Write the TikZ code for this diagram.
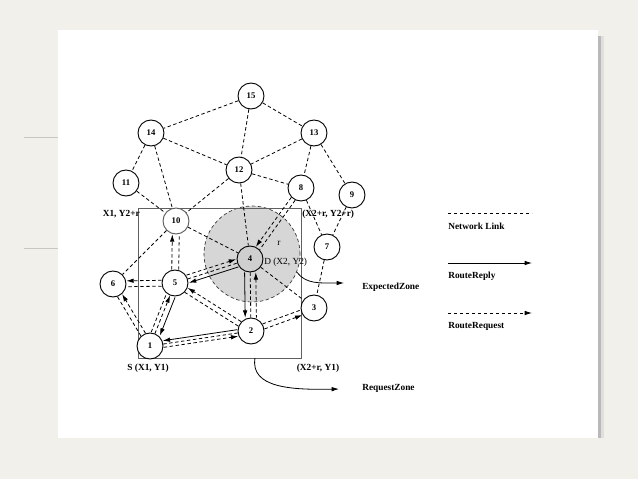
\documentclass[tikz,border=0pt]{standalone}
\usepackage{fontspec}
\setmainfont{Liberation Serif}
\usetikzlibrary{calc,arrows.meta}
\definecolor{bgc}{HTML}{F2F0EB}
\definecolor{sidel}{HTML}{C9C6BF}
\tikzset{
  nd/.style={circle, draw, line width=0.7pt, fill=white, minimum size=19.5pt, inner sep=0pt, font=\bfseries\fontsize{6.5}{7}\selectfont},
  lbl/.style={inner sep=0pt, font=\bfseries\fontsize{7}{8}\selectfont},
  link/.style={dash pattern=on 2.6pt off 1.9pt, line width=0.6pt},
  sh/.style={shorten <=10pt, shorten >=10pt},
  req/.style={link, -{Latex[length=5.5pt,width=3.4pt]}},
  reqr/.style={link, {Latex[length=5.5pt,width=3.4pt]}-},
  rep/.style={line width=0.6pt, -{Latex[length=5.5pt,width=3.4pt]}},
  repr/.style={line width=0.6pt, {Latex[length=5.5pt,width=3.4pt]}-},
  arr/.style={line width=0.6pt, -{Latex[length=5.5pt,width=3.4pt]}},
}
\newcommand{\pl}[4]{\draw[#1, sh] ($(#2)!#4!90:(#3)$) -- ($(#3)!#4!-90:(#2)$);}
\begin{document}
\begin{tikzpicture}[x=0.75pt,y=-0.75pt]
\useasboundingbox (0,0) rectangle (638,479);
% background and page
\fill[bgc] (0,0) rectangle (638,479);
\fill[white] (58,30) rectangle (598,438);
\fill[gray!55] (598,36) rectangle (601,438);
\fill[gray!25] (601,36) rectangle (604,438);
\draw[sidel, line width=0.7pt] (24,137) -- (58,137);
\draw[sidel, line width=0.7pt] (24,248) -- (58,248);

% expected zone
\node[circle, minimum size=72pt, inner sep=0pt, fill=gray!32, draw=black!80, dash pattern=on 2.6pt off 1.9pt, line width=0.5pt] (zone) at (252,254) {};
% request zone box
\draw[gray!75!black, line width=0.7pt] (138,208) rectangle (301,358);
\coordinate (rz) at (255,358);

% nodes
\node[nd] (n15) at (251,96) {15};
\node[nd] (n14) at (151,133) {14};
\node[nd] (n13) at (314,133) {13};
\node[nd] (n12) at (239,170) {12};
\node[nd] (n11) at (126,183) {11};
\node[nd] (n8) at (301,188) {8};
\node[nd] (n9) at (352,195) {9};
\node[nd, draw=gray!70!black] (n10) at (176,221) {10};
\node[nd] (n7) at (327,247) {7};
\node[nd, fill=gray!38] (n4) at (250,259) {4};
\node[nd] (n6) at (113,284) {6};
\node[nd] (n5) at (175,283) {5};
\node[nd] (n3) at (314,308) {3};
\node[nd] (n2) at (251,331) {2};
\node[nd] (n1) at (150,346) {1};

% network links
\foreach \a/\b in {n15/n14,n15/n13,n15/n12,n14/n12,n14/n11,n14/n10,n13/n12,n13/n8,n13/n9,n12/n8,n12/n10,n12/n4,n11/n10,n8/n7,n9/n7,n7/n3,n10/n6,n10/n4,n4/n3}
  \draw[link] (\a) -- (\b);

% link + request pairs
\pl{link}{n8}{n4}{1.8pt} \pl{req}{n8}{n4}{-1.8pt}
\pl{req}{n5}{n10}{2.6pt} \pl{link}{n5}{n10}{-2.6pt}
\pl{req}{n5}{n6}{-2.2pt} \pl{link}{n5}{n6}{2.2pt}
\pl{req}{n1}{n6}{-2pt} \pl{link}{n1}{n6}{2pt}
\pl{req}{n2}{n5}{-2pt} \pl{link}{n2}{n5}{2pt}
\pl{req}{n2}{n3}{-2pt} \pl{link}{n2}{n3}{2pt}

% link + request + reply triples
\pl{repr}{n1}{n2}{2.5pt} \pl{link}{n1}{n2}{0pt} \pl{req}{n1}{n2}{-2.5pt}
\pl{link}{n1}{n5}{3pt} \pl{req}{n1}{n5}{0pt} \pl{repr}{n1}{n5}{-4pt}
\pl{req}{n5}{n4}{3pt} \pl{link}{n5}{n4}{0pt} \pl{repr}{n5}{n4}{-3pt}
\pl{rep}{n4}{n2}{-4.2pt} \pl{link}{n4}{n2}{0pt} \pl{reqr}{n4}{n2}{4.2pt}

% labels
\node[lbl, anchor=east] at (140,214) {X1, Y2+r};
\node[lbl, anchor=west] at (302,214) {(X2+r, Y2+r)};
\node[lbl, anchor=west, font=\fontsize{7}{8}\selectfont] (dl) at (264,262) {D (X2, Y2)};
\node[lbl, font=\fontsize{7}{8}\selectfont] at (279,243) {r};
\node[lbl] at (148,368) {S (X1, Y1)};
\node[lbl] at (318,368) {(X2+r, Y1)};

% zone pointers
\coordinate (ez) at (344,283);
\coordinate (rqz) at (339,389);
\draw[arr] (zone.-22) .. controls (306,284) and (318,283) .. (ez);
\draw[arr] (rz) .. controls (250,388) and (292,390) .. (rqz);
\node[lbl, anchor=west] at (362,287) {ExpectedZone};
\node[lbl, anchor=west] at (362,388) {RequestZone};

% legend
\coordinate (l1a) at (448,213); \coordinate (l1b) at (532,213);
\coordinate (l2a) at (448,263); \coordinate (l2b) at (532,263);
\coordinate (l3a) at (448,313); \coordinate (l3b) at (532,313);
\draw[link] (l1a) -- (l1b);
\draw[arr] (l2a) -- (l2b);
\draw[arr, dash pattern=on 2.6pt off 1.9pt] (l3a) -- (l3b);
\node[lbl, anchor=west] at (448,226) {Network Link};
\node[lbl, anchor=west] at (448,276) {RouteReply};
\node[lbl, anchor=west] at (448,326) {RouteRequest};
\end{tikzpicture}
\end{document}
